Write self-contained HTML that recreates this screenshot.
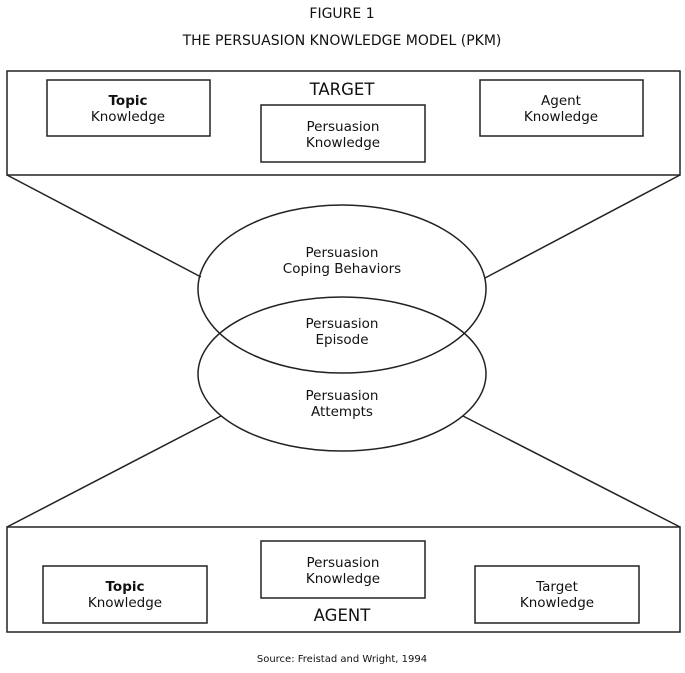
<!DOCTYPE html>
<html><head><style>
body{margin:0;background:#fff;}
svg text{font-family:"DejaVu Sans","Liberation Sans",sans-serif;fill:#111;}
</style></head><body>
<svg width="685" height="668" viewBox="0 0 685 668" xmlns="http://www.w3.org/2000/svg">
<g font-size="13" text-anchor="middle">
<text x="342" y="18" font-size="14">FIGURE 1</text>
<text x="342" y="45" font-size="14">THE PERSUASION KNOWLEDGE MODEL (PKM)</text>
</g>
<g fill="none" stroke="#222" stroke-width="1.5">
<rect x="7" y="71" width="673" height="104"/>
<rect x="47" y="80" width="163" height="56"/>
<rect x="261" y="105" width="164" height="57"/>
<rect x="480" y="80" width="163" height="56"/>
<line x1="7" y1="175" x2="201" y2="277"/>
<line x1="680" y1="175" x2="485" y2="278"/>
<ellipse cx="342" cy="289" rx="144" ry="84"/>
<ellipse cx="342" cy="374" rx="144" ry="77"/>
<line x1="221" y1="416" x2="7" y2="527"/>
<line x1="463" y1="416" x2="680" y2="527"/>
<rect x="7" y="527" width="673" height="105"/>
<rect x="43" y="566" width="164" height="57"/>
<rect x="261" y="541" width="164" height="57"/>
<rect x="475" y="566" width="164" height="57"/>
</g>
<g font-size="13.5" text-anchor="middle">
<text x="342" y="95" font-size="16.5">TARGET</text>
<text x="128" y="105" font-weight="bold">Topic</text>
<text x="128" y="121">Knowledge</text>
<text x="343" y="131">Persuasion</text>
<text x="343" y="147">Knowledge</text>
<text x="561" y="105">Agent</text>
<text x="561" y="121">Knowledge</text>
<text x="342" y="257">Persuasion</text>
<text x="342" y="273">Coping Behaviors</text>
<text x="342" y="328">Persuasion</text>
<text x="342" y="344">Episode</text>
<text x="342" y="400">Persuasion</text>
<text x="342" y="416">Attempts</text>
<text x="343" y="567">Persuasion</text>
<text x="343" y="583">Knowledge</text>
<text x="125" y="591" font-weight="bold">Topic</text>
<text x="125" y="607">Knowledge</text>
<text x="557" y="591">Target</text>
<text x="557" y="607">Knowledge</text>
<text x="342" y="621" font-size="16.5">AGENT</text>
<text x="342" y="662" font-size="10">Source: Freistad and Wright, 1994</text>
</g>
</svg>
</body></html>
